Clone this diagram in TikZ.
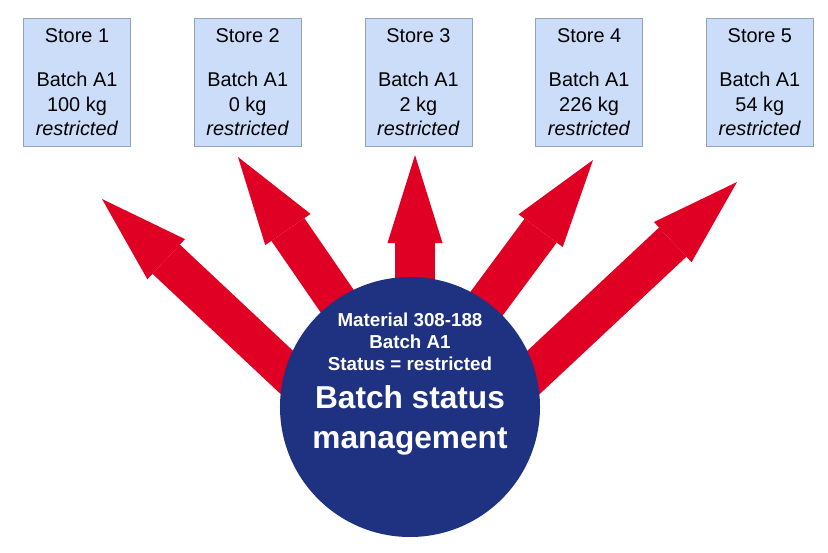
\documentclass[tikz,border=0pt]{standalone}
\usepackage{fontspec}
\setmainfont{Liberation Sans}
\usetikzlibrary{positioning, arrows.meta, backgrounds}
\definecolor{storeblue}{RGB}{204,221,250}
\definecolor{storeedge}{RGB}{150,160,182}
\definecolor{hubnavy}{RGB}{31,50,130}
\definecolor{arrowred}{RGB}{224,0,36}

\begin{document}
\begin{tikzpicture}[x=0.03cm, y=0.03cm, >={Triangle[length=2.64cm, width=1.65cm, line width=0pt]},
    storebox/.style={draw=storeedge, fill=storeblue, line width=0.6pt, minimum width=3.21cm, minimum height=3.84cm, align=center, inner sep=0pt, font=\fontsize{17}{20.8}\selectfont},
    hubcircle/.style={circle, fill=hubnavy, minimum size=7.8cm, inner sep=0pt},
    fan/.style={->, arrowred, line width=1.2cm}]
    \useasboundingbox (0,0) rectangle (828,553);
    \node (store1) [storebox] at (77,471) {Store 1\\[17.5pt]Batch A1\\100 kg\\\textit{restricted}};
    \node (store2) [storebox, right=1.89cm of store1] {Store 2\\[17.5pt]Batch A1\\0 kg\\\textit{restricted}};
    \node (store3) [storebox, right=1.89cm of store2] {Store 3\\[17.5pt]Batch A1\\2 kg\\\textit{restricted}};
    \node (store4) [storebox, right=1.89cm of store3] {Store 4\\[17.5pt]Batch A1\\226 kg\\\textit{restricted}};
    \node (store5) [storebox, right=1.89cm of store4] {Store 5\\[17.5pt]Batch A1\\54 kg\\\textit{restricted}};
    \node (hub) [hubcircle] at (410,146) {};
    \node (hubinfo) [white, align=center, font=\bfseries\fontsize{16}{18.7}\selectfont] at ([yshift=1.95cm]hub.center) {Material 308-188\\Batch A1\\Status = restricted};
    \node (hubtitle) [white, align=center, font=\bfseries\fontsize{27}{34}\selectfont] at ([yshift=-0.39cm]hub.center) {Batch status\\management};
    \coordinate (low) at (410,65);
    \coordinate (tip1) at (102,354);
    \coordinate (tip2) at (238,396);
    \coordinate (tip3) at (415,398);
    \coordinate (tip4) at (593,393);
    \coordinate (tip5) at (737,371);
    \begin{scope}[on background layer]
        \draw [fan] (low) -- (tip1);
        \draw [fan] (hub.center) -- (tip2);
        \draw [fan] ([xshift=0.15cm]hub.center) -- (tip3);
        \draw [fan] (hub.center) -- (tip4);
        \draw [fan] (low) -- (tip5);
    \end{scope}
\end{tikzpicture}
\end{document}
